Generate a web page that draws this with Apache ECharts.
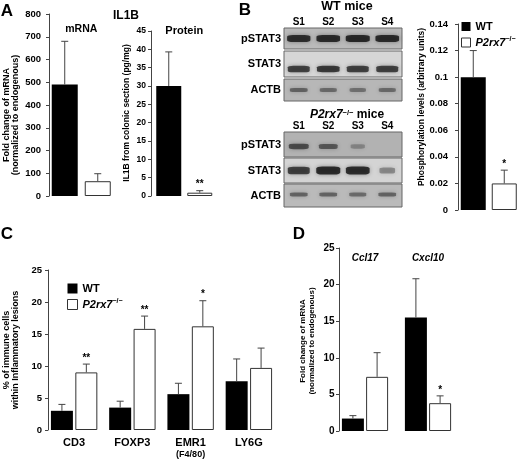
<!DOCTYPE html>
<html><head><meta charset="utf-8">
<script src="https://cdn.jsdelivr.net/npm/echarts@6/dist/echarts.min.js"></script>
<style>html,body{margin:0;padding:0;background:#fff}#c{width:520px;height:460px}</style>
</head><body><div id="c"></div>
<script>
// ---------- data ----------
const seriesNames = ['WT', 'P2rx7−/−'];
// Panel A
const aMrnaCats = ['mRNA'];
const aMrnaWT = [490], aMrnaWTErr = [190];
const aMrnaKO = [65], aMrnaKOErr = [33];
const aMrnaSig = [''];
const aProtCats = ['Protein'];
const aProtWT = [30], aProtWTErr = [9.3];
const aProtKO = [0.9], aProtKOErr = [0.55];
const aProtSig = ['**'];
// Panel B (blots + quantification)
const blotLanes = ['S1', 'S2', 'S3', 'S4'];
const blotRows = ['pSTAT3', 'STAT3', 'ACTB'];
const wtPstat3 = [0.95, 0.97, 1.0, 0.97];
const wtStat3 = [0.85, 0.9, 0.85, 0.85];
const wtActb = [0.55, 0.5, 0.45, 0.5];
const koPstat3 = [0.7, 0.62, 0.3, 0];
const koStat3 = [0.85, 1.0, 0.98, 0.4];
const koActb = [0.55, 0.55, 0.5, 0.55];
const bCats = ['pSTAT3'];
const bWT = [0.1], bWTErr = [0.02];
const bKO = [0.02], bKOErr = [0.01];
const bSig = ['*'];
// Panel C
const cCats = ['CD3', 'FOXP3', 'EMR1 (F4/80)', 'LY6G'];
const cWT = [3.0, 3.5, 5.6, 7.6], cWTErr = [1.0, 1.0, 1.7, 3.5];
const cKO = [9.0, 15.8, 16.2, 9.7], cKOErr = [1.3, 2.0, 4.0, 3.1];
const cSig = ['**', '**', '*', ''];
// Panel D
const dCats = ['Ccl17', 'Cxcl10'];
const dWT = [1.7, 15.5], dWTErr = [0.4, 5.3];
const dKO = [7.4, 3.8], dKOErr = [3.3, 1.0];
const dSig = ['', '*'];

// ---------- helpers ----------
const FF = '"Liberation Sans", Arial, sans-serif';
const AX = '#444';
const grids = [], xAxes = [], yAxes = [], series = [];

function addGrid(g) { grids.push(Object.assign({ outerBoundsMode: 'none', containLabel: false }, g)); return grids.length - 1; }

function valAxis(gi, max, interval, fs, margin, offset) {
  return { type: 'value', gridIndex: gi, min: 0, max: max, interval: interval, offset: offset || 0,
    axisLine: { show: true, lineStyle: { color: AX, width: 1 } },
    axisTick: { show: true, length: 3, lineStyle: { color: AX } },
    splitLine: { show: false },
    axisLabel: { fontSize: fs, fontWeight: 'bold', color: '#000', margin: margin, fontFamily: FF } };
}
function catAxis(gi, cats, label) {
  return { type: 'category', gridIndex: gi, data: cats,
    axisLine: { show: false }, axisTick: { show: false }, splitLine: { show: false },
    axisLabel: Object.assign({ show: false, interval: 0, color: '#000', fontWeight: 'bold', fontFamily: FF }, label || {}) };
}
function errSeries(gi, means, errs, sigs, side, offset) {
  return { type: 'custom', xAxisIndex: gi, yAxisIndex: gi, silent: true, z: 5, clip: false,
    data: means.map((m, i) => [i, m, errs[i]]),
    renderItem: function (params, api) {
      const i = api.value(0), m = api.value(1), e = api.value(2);
      const b = api.coord([i, m]), t = api.coord([i, m + e]);
      const x = b[0] + side * offset;
      const ch = [
        { type: 'line', shape: { x1: x, y1: b[1], x2: x, y2: t[1] }, style: { stroke: AX, lineWidth: 1 } },
        { type: 'line', shape: { x1: x - 3.5, y1: t[1], x2: x + 3.5, y2: t[1] }, style: { stroke: AX, lineWidth: 1 } }
      ];
      const s = sigs ? sigs[params.dataIndex] : '';
      if (s) ch.push({ type: 'text', style: { text: s, x: x, y: t[1] - 1, align: 'center', verticalAlign: 'bottom',
        fontSize: 10, fontWeight: 'bold', fontFamily: FF, fill: '#000' } });
      return { type: 'group', children: ch };
    } };
}
function barPair(gi, wt, wtErr, ko, koErr, sigs, bw, gap) {
  const off = (bw + bw * gap / 100) / 2;
  series.push({ type: 'bar', name: seriesNames[0], xAxisIndex: gi, yAxisIndex: gi, data: wt, barWidth: bw, barGap: gap + '%',
    itemStyle: { color: '#000' }, silent: true });
  series.push({ type: 'bar', name: seriesNames[1], xAxisIndex: gi, yAxisIndex: gi, data: ko, barWidth: bw, barGap: gap + '%',
    itemStyle: { color: '#fff', borderColor: '#333', borderWidth: 1 }, silent: true });
  series.push(errSeries(gi, wt, wtErr, null, -1, off));
  series.push(errSeries(gi, ko, koErr, sigs, 1, off));
}

// ---------- Panel A ----------
let g = addGrid({ left: 49, top: 14, width: 64.5, height: 182 });
xAxes.push(catAxis(g, aMrnaCats, { show: true, fontSize: 10.5, inside: true, margin: 10 }));
xAxes[xAxes.length - 1].position = 'top';
yAxes.push(valAxis(g, 800, 100, 9.5, 8));
barPair(g, aMrnaWT, aMrnaWTErr, aMrnaKO, aMrnaKOErr, aMrnaSig, 26, 27);

g = addGrid({ left: 151, top: 31, width: 66.5, height: 165 });
xAxes.push(catAxis(g, aProtCats, { show: true, fontSize: 11, inside: true, margin: -6 }));
xAxes[xAxes.length - 1].position = 'top';
yAxes.push(valAxis(g, 45, 5, 8.5, 5));
barPair(g, aProtWT, aProtWTErr, aProtKO, aProtKOErr, aProtSig, 25, 24);

// ---------- Panel B quantification ----------
g = addGrid({ left: 458, top: 24, width: 61.5, height: 186 });
xAxes.push(catAxis(g, bCats));
yAxes.push(valAxis(g, 0.14, 0.02, 9.5, 10));
barPair(g, bWT, bWTErr, bKO, bKOErr, bSig, 25, 24);

// ---------- Panel C ----------
g = addGrid({ left: 45, top: 270, width: 233, height: 160 });
xAxes.push(catAxis(g, cCats, { show: true, fontSize: 11, margin: 7, lineHeight: 12,
  formatter: function (v) { const p = v.split(' '); return p.length > 1 ? p[0] + '\n{s|' + p[1] + '}' : v; },
  rich: { s: { fontSize: 9, fontWeight: 'bold', fontFamily: FF, color: '#000', lineHeight: 12 } } }));
yAxes.push(valAxis(g, 25, 5, 9.5, 6, -3));
barPair(g, cWT, cWTErr, cKO, cKOErr, cSig, 22, 11);

// ---------- Panel D ----------
g = addGrid({ left: 333.5, top: 248, width: 126, height: 183 });
xAxes.push(catAxis(g, dCats, { show: true, fontSize: 10, fontStyle: 'italic', inside: true, margin: 5 }));
xAxes[xAxes.length - 1].position = 'top';
yAxes.push(valAxis(g, 25, 5, 10, 4.5, -5.5));
barPair(g, dWT, dWTErr, dKO, dKOErr, dSig, 22, 10);

// ---------- Panel B blots ----------
const strips = [
  { vals: wtPstat3, row: 0, top: 28, h: 21, bg: '#bababa', bh: 7, dy: 0, lanes: true },
  { vals: wtStat3, row: 1, top: 51, h: 26, bg: '#d6d6d6', bh: 7, dy: 5, lanes: false },
  { vals: wtActb, row: 2, top: 79, h: 22, bg: '#b7b7b7', bh: 5, dy: 0, lanes: false },
  { vals: koPstat3, row: 0, top: 132, h: 25, bg: '#b2b2b2', bh: 6, dy: 2, lanes: true },
  { vals: koStat3, row: 1, top: 158, h: 25, bg: '#d4d4d4', bh: 8, dy: 0, lanes: false },
  { vals: koActb, row: 2, top: 184, h: 23, bg: '#bababa', bh: 5, dy: -1, lanes: false }
];
strips.forEach(function (s) {
  const gi = addGrid({ left: 284, top: s.top, width: 118, height: s.h, show: true, backgroundColor: s.bg,
    borderColor: '#666', borderWidth: 1 });
  xAxes.push({ type: 'category', gridIndex: gi, data: blotLanes, position: 'top',
    axisLine: { show: false }, axisTick: { show: false },
    axisLabel: { show: s.lanes, interval: 0, fontSize: 10, fontWeight: 'bold', color: '#000', margin: 1, fontFamily: FF } });
  yAxes.push({ type: 'category', gridIndex: gi, data: [blotRows[s.row]],
    axisLine: { show: false }, axisTick: { show: false },
    axisLabel: { fontSize: 11, fontWeight: 'bold', color: '#000', margin: 3, fontFamily: FF } });
  series.push({ type: 'scatter', xAxisIndex: gi, yAxisIndex: gi, silent: true,
    data: s.vals.map(function (v, i) { return [i, 0, v]; }),
    symbol: 'roundRect',
    symbolSize: function (val) { return val[2] > 0 ? [10 + 14 * val[2], s.bh * (0.6 + 0.4 * val[2])] : 0; },
    symbolOffset: [0, s.dy],
    itemStyle: { color: function (p) { return 'rgba(12,12,12,' + p.data[2] + ')'; },
      shadowBlur: 4, shadowColor: 'rgba(0,0,0,0.45)' } });
});

// ---------- texts ----------
function txt(x, y, text, fs, extra) {
  return Object.assign({ type: 'text', x: x, y: y, silent: true,
    style: Object.assign({ text: text, align: 'center', verticalAlign: 'middle', fontSize: fs, fontWeight: 'bold',
      fontFamily: FF, fill: '#000' }, (extra && extra.style) || {}) }, (extra && extra.el) || {});
}
const rot = { el: { rotation: Math.PI / 2 } };
const supRich = {
  i: { fontStyle: 'italic', fontWeight: 'bold', fontSize: 12, fontFamily: FF, fill: '#000', color: '#000' },
  s: { fontWeight: 'bold', fontSize: 7.5, fontFamily: FF, fill: '#000', color: '#000', verticalAlign: 'top' },
  n: { fontWeight: 'bold', fontSize: 12, fontFamily: FF, fill: '#000', color: '#000' }
};
const graphics = [
  txt(7, 11, 'A', 17), txt(245, 10, 'B', 17), txt(7, 234, 'C', 17), txt(299, 234, 'D', 17),
  txt(126, 16, 'IL1B', 12),
  txt(347, 7, 'WT mice', 12.5),
  txt(347, 115, '{i|P2rx7}{s|−/−}{n| mice}', 12, { style: { rich: supRich } }),
  txt(11, 115, 'Fold change of mRNA\n(normalized to endogenous)', 9, { el: rot.el, style: { lineHeight: 8.5 } }),
  txt(127, 113, 'IL1B from colonic section (pg/mg)', 8.5, rot),
  txt(422, 107, 'Phosphorylation levels (arbitrary units)', 8.5, rot),
  txt(11, 350, '% of immune cells\nwithin Inflammatory lesions', 9, { el: rot.el, style: { lineHeight: 8.5 } }),
  txt(307.5, 341, 'Fold change of mRNA\n(normalized to endogenous)', 8, { el: rot.el, style: { lineHeight: 8.5 } })
];

function legendFor(left, top, sq, gap) {
  return { left: left, top: top, orient: 'vertical', icon: 'rect', itemWidth: sq, itemHeight: sq, itemGap: gap,
    itemStyle: { borderWidth: 0 }, selectedMode: false,
    data: [
      { name: seriesNames[0], itemStyle: { color: '#000', borderWidth: 0 } },
      { name: seriesNames[1], itemStyle: { color: '#fff', borderColor: '#333', borderWidth: 1 } }
    ],
    formatter: function (n) { return n === 'WT' ? '{n|WT}' : '{i|P2rx7}{s|−/−}'; },
    textStyle: { lineHeight: 13, rich: {
      n: { fontWeight: 'bold', fontSize: 11, fontFamily: FF, color: '#000' },
      i: { fontStyle: 'italic', fontWeight: 'bold', fontSize: 11, fontFamily: FF, color: '#000' },
      s: { fontWeight: 'bold', fontSize: 7, fontFamily: FF, color: '#000', verticalAlign: 'top' } } } };
}

const chart = echarts.init(document.getElementById('c'), null, { renderer: 'canvas' });
chart.setOption({
  animation: false,
  backgroundColor: '#fff',
  textStyle: { fontFamily: FF, color: '#000' },
  grid: grids, xAxis: xAxes, yAxis: yAxes, series: series,
  legend: [legendFor(456, 15, 9, 3), legendFor(62, 277, 10, 3)],
  graphic: graphics
});
</script></body></html>
